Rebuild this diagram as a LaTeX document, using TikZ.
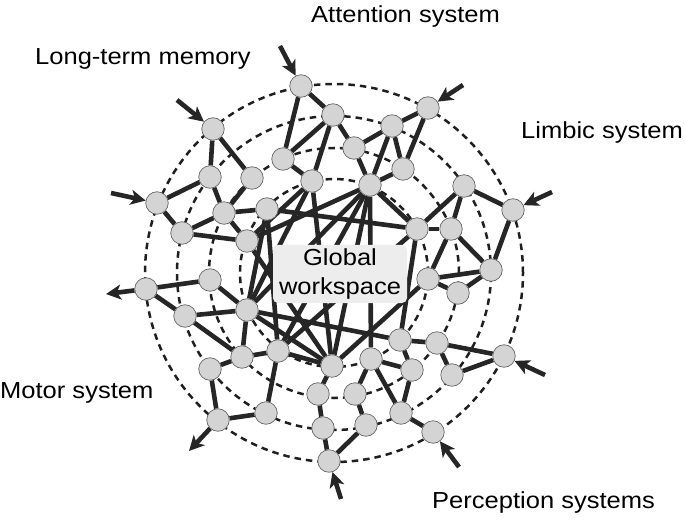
\documentclass[tikz,border=0pt]{standalone}
\usepackage{fontspec}
\newfontfamily\labfont{Liberation Sans}[FakeStretch=1.1]
\usetikzlibrary{arrows.meta}
\pgfdeclarelayer{bg}
\pgfsetlayers{bg,main}
\begin{document}
\begin{tikzpicture}[x=1bp,y=-1bp,
 nd/.style={circle,draw=black!60,line width=0.7bp,fill=black!17,minimum size=22.5bp,inner sep=0pt},
 edge/.style={line width=4.6bp,draw=black!85},
 ring/.style={line width=2.5bp,dash pattern=on 6.5bp off 5bp,draw=black!88},
 arr/.style={line width=4.6bp,draw=black!85,-{Stealth[length=15bp,width=15bp,inset=4bp]}},
 lab/.style={font=\labfont\fontsize{23.2bp}{28bp}\selectfont,inner sep=0pt,anchor=base west}]
\useasboundingbox (0,0) rectangle (685,520);

% nodes
\foreach \n/\x/\y in {A1/301/86,A2/333/115,A3/283/159,A4/312/181,A5/354/148,A6/392/126,A7/403/169,A8/370/185,
 Lim1/428/108,Lim2/464/186,Lim3/513/210,Lim4/417/229,Lim5/451/229,Lim6/491/270,Lim7/428/279,Lim8/458/293,
 L1/213/129,L2/210/177,L3/252/178,L4/157/203,L5/224/213,L6/267/209,L7/182/233,L8/247/241,
 M1/210/280,M2/146/289,M3/247/310,M4/185/316,M5/242/357,M6/278/351,M7/210/369,M8/266/413,M9/218/420,
 P1/332/366,P2/318/394,P3/323/428,P4/329/461,P5/400/340,P6/437/343,P7/504/356,P8/452/375,P9/371/359,
 P10/412/370,P11/355/394,P12/401/413,P13/366/425,P14/433/432}
 {\node[nd] (\n) at (\x,\y) {};}

\coordinate (ctr) at (334,273);

\begin{pgfonlayer}{bg}
 \foreach \r in {189,157,125,94} {\draw[ring] (ctr) circle[radius=\r bp];}
 \foreach \a/\b in {A1/A2,A1/A3,A2/A3,A2/A4,A2/A5,A3/A4,A5/A6,A5/A8,A6/A7,A6/A8,A6/Lim1,A7/A8,A7/Lim1,A4/L8,A4/M3,A4/P1,
  Lim2/Lim3,Lim2/Lim4,Lim2/Lim5,Lim3/Lim6,Lim4/Lim5,Lim5/Lim6,Lim5/Lim7,Lim6/Lim7,Lim6/Lim8,Lim7/Lim8,Lim4/P5,Lim7/P1,L6/Lim4,A8/Lim4,
  L1/L2,L1/L3,L2/L4,L2/L5,L3/L5,L4/L7,L5/L7,L5/L6,L5/L8,L7/L8,L8/A8,L6/M3,L6/M6,
  M1/M2,M1/M3,M2/M4,M3/M4,M3/M5,M4/M5,M5/M6,M5/M7,M7/M9,M8/M9,M6/M8,M6/P1,M3/P1,M3/P5,A8/M3,A8/M6,M6/Lim4,
  P1/P2,P2/P3,P3/P4,P4/P13,P11/P13,P9/P11,P9/P10,P9/P12,P10/P5,P10/P12,P12/P14,P5/P6,P6/P7,P6/P8,P7/P8,A8/P9,A8/P1,L8/P1}
  {\draw[edge] (\a) -- (\b);}
 \node[fill=black!7,rounded corners=5bp,minimum width=134bp,minimum height=58bp,inner sep=0pt,
   align=center,font=\labfont\fontsize{23.2bp}{28.5bp}\selectfont] (gw) at (340,274) {Global\\workspace};
\end{pgfonlayer}

% arrows
\coordinate (tA1) at (280,46);
\coordinate (tL1) at (177,100);
\coordinate (tL4) at (111,193);
\coordinate (tLim1) at (463,85);
\coordinate (tLim3) at (552,192);
\coordinate (tP7) at (545,375);
\coordinate (tP14) at (459,467);
\coordinate (tP4) at (341,499);
\coordinate (oM2) at (106,294);
\coordinate (oM9) at (189,451);
\foreach \t/\n in {tA1/A1,tL1/L1,tL4/L4,tLim1/Lim1,tLim3/Lim3,tP7/P7,tP14/P14,tP4/P4}
 {\draw[arr] (\t) -- (\n);}
\draw[arr] (M2) -- (oM2);
\draw[arr] (M9) -- (oM9);

% labels
\node[lab] (latt) at (311,23) {Attention system};
\node[lab] (lltm) at (35,65) {Long-term memory};
\node[lab] (llim) at (521,139) {Limbic system};
\node[lab] (lmot) at (0,398) {Motor system};
\node[lab] (lper) at (432,508) {Perception systems};
\end{tikzpicture}
\end{document}
